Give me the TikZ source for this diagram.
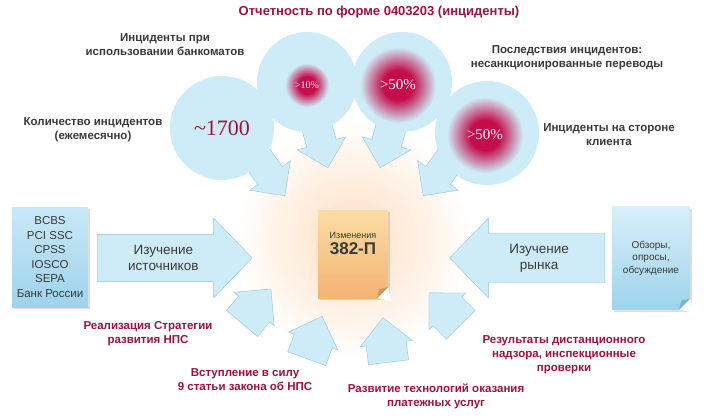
\documentclass[tikz,border=0pt]{standalone}
\usepackage{fontspec}
\setmainfont{Liberation Sans}
\newfontfamily\numfont{Liberation Serif}
\usepackage{tikz}
\usetikzlibrary{shapes.arrows,shadows}
\definecolor{bubble}{RGB}{206,235,248}
\definecolor{arrowedge}{RGB}{150,196,216}
\definecolor{glowred}{RGB}{196,14,76}
\definecolor{titlered}{RGB}{158,18,60}
\definecolor{labelgray}{RGB}{58,58,58}
\definecolor{boxtop}{RGB}{200,232,247}
\definecolor{boxbottom}{RGB}{158,211,236}
\definecolor{boxfold}{RGB}{120,180,210}
\definecolor{doctop}{RGB}{252,220,165}
\definecolor{docbottom}{RGB}{243,180,115}
\definecolor{docfold}{RGB}{212,148,88}
\definecolor{peach}{RGB}{254,232,212}
\pgfdeclareradialshading{glow}{\pgfpoint{0bp}{0bp}}{color(0bp)=(glowred); color(10bp)=(glowred); color(25bp)=(bubble); color(50bp)=(bubble)}
\pgfdeclareradialshading{softpeach}{\pgfpoint{0bp}{0bp}}{color(0bp)=(peach); color(8bp)=(peach); color(25bp)=(white); color(50bp)=(white)}
\newcommand{\labelfont}{\bfseries\fontsize{11.5}{14}\selectfont}
\tikzstyle{graylabel}=[align=center,text=labelgray,font=\labelfont]
\tikzstyle{redlabel}=[align=center,text=titlered,font=\labelfont]
\tikzstyle{bubblenode}=[circle,fill=bubble,inner sep=0pt]
\tikzstyle{glownode}=[circle,shading=glow,inner sep=0pt,text=white]
\tikzstyle{bigarrow}=[single arrow,draw=arrowedge,fill=bubble,minimum height=155pt,minimum width=80pt,single arrow head extend=9pt,single arrow tip angle=92,inner sep=0pt,align=center,text=labelgray,font=\fontsize{13.5}{16}\selectfont]
\tikzstyle{bubblearrow}=[single arrow,draw=arrowedge,fill=bubble,minimum height=85pt,single arrow head extend=10pt,single arrow tip angle=90,inner xsep=0pt,inner ysep=15pt]
\tikzstyle{housearrow}=[single arrow,draw=arrowedge,fill=bubble,minimum height=45pt,single arrow head extend=6pt,single arrow tip angle=90,inner xsep=0pt,inner ysep=20pt]
\tikzstyle{srcbox}=[rectangle,top color=boxtop,bottom color=boxbottom,align=center,text=labelgray,drop shadow={shadow xshift=1.5pt,shadow yshift=-2pt,opacity=0.25}]

\begin{document}
\begin{tikzpicture}[x=1pt,y=-1pt]
    \useasboundingbox (0,0) rectangle (704,417);
    \fill[white] (0,0) rectangle (704,417);
    \shade[shading=softpeach] (353,240) circle (120);

    % title
    \node[font=\bfseries\fontsize{13}{15}\selectfont,text=titlered] (title) at (379,12) {Отчетность по форме 0403203 (инциденты)};

    % bubbles with arrows to the centre
    \foreach \pos/\ang/\name in {{(285,196)/-54/down1}, {(328,168)/-75/down2}, {(380,168)/-105/down3}, {(423,196)/-126/down4}}
        \node[bubblearrow,rotate=\ang,anchor=tip] (\name) at \pos {};
    \foreach \pos/\size/\name in {{(222,128)/104/count}, {(307,82)/100/atm}, {(402,82)/100/unauth}, {(487,133)/104/client}}
        \node[bubblenode,minimum size=\size pt] (\name) at \pos {};
    \node[font=\numfont\fontsize{22}{22}\selectfont,text=titlered] (countval) at (count) {\textasciitilde1700};
    \node[glownode,minimum size=44pt,font=\numfont\fontsize{10}{10}\selectfont] (atmval) at (307,85) {>10\%};
    \node[glownode,minimum size=76pt,font=\numfont\fontsize{15}{15}\selectfont] (unauthval) at (398,85) {>50\%};
    \node[glownode,minimum size=76pt,font=\numfont\fontsize{15}{15}\selectfont] (clientval) at (485,135) {>50\%};

    \node[graylabel] (atmlbl) at (165,45) {Инциденты при\\использовании банкоматов};
    \node[graylabel] (countlbl) at (93,130) {Количество инцидентов\\(ежемесячно)};
    \node[graylabel] (unauthlbl) at (567,58) {Последствия инцидентов:\\несанкционированные переводы};
    \node[graylabel] (clientlbl) at (609,135) {Инциденты на стороне\\клиента};

    % sources and market
    \node[srcbox,minimum width=76pt,minimum height=100pt,font=\fontsize{11.5}{14.6}\selectfont] (sources) at (50,257) {BCBS\\PCI SSC\\CPSS\\IOSCO\\SEPA\\Банк России};
    \node[srcbox,minimum width=78pt,minimum height=103pt,top color=boxtop!70!white,font=\fontsize{10}{12.5}\selectfont] (market) at (651,258) {Обзоры,\\опросы,\\обсуждение};
    \node[bigarrow,anchor=tail] (srcstudy) at (97,258) {Изучение\\источников};
    \node[bigarrow,shape border rotate=180,anchor=tail] (mktstudy) at (605,258) {Изучение\\рынка};

    % document in the middle
    \node[srcbox,top color=doctop,bottom color=docbottom,minimum width=70pt,minimum height=88pt,font=\fontsize{17}{16}\selectfont] (doc) at (353,254) {{\fontsize{9}{11}\selectfont Изменения}\\{\bfseries 382-П}\\[6pt]};
    \foreach \docname/\foldcol in {market/boxfold, doc/docfold} {
        \fill[white] ([xshift=-11pt]\docname.south east) -- ([xshift=3pt,yshift=-3pt]\docname.south east) -- ([yshift=11pt]\docname.south east) -- cycle;
        \fill[\foldcol] ([xshift=-11pt]\docname.south east) -- ([yshift=11pt]\docname.south east) -- ([xshift=-9pt,yshift=9pt]\docname.south east) -- cycle;
    }

    % small arrows from below
    \foreach \pos/\ang/\name in {{(250,314)/50/up1}, {(311,347)/70/up2}, {(387,350)/97/up3}, {(452,316)/135/up4}}
        \node[housearrow,rotate=\ang] (\name) at \pos {};

    \node[redlabel] (strategy) at (148,334) {Реализация Стратегии\\развития НПС};
    \node[redlabel] (law) at (245,380) {Вступление в силу\\9 статьи закона об НПС};
    \node[redlabel] (tech) at (436,396) {Развитие технологий оказания\\платежных услуг};
    \node[redlabel] (supervision) at (564,355) {Результаты дистанционного\\надзора, инспекционные\\проверки};
\end{tikzpicture}
\end{document}
